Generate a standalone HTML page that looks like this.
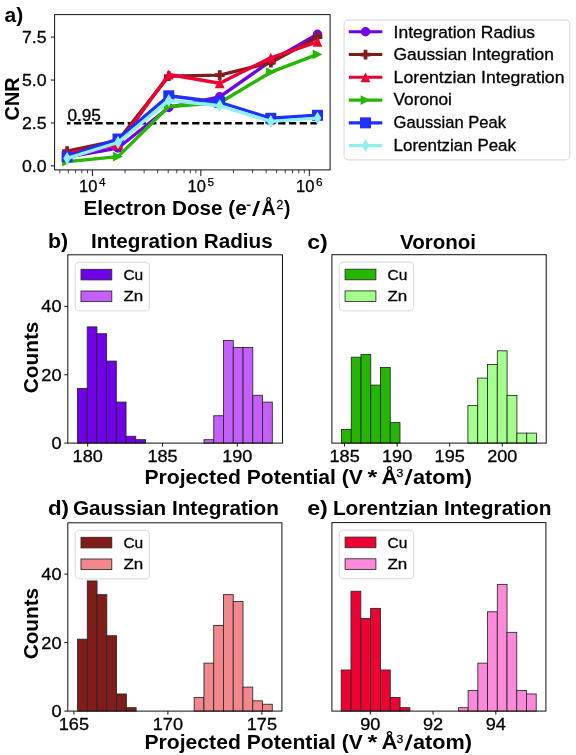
<!DOCTYPE html>
<html><head><meta charset="utf-8"><style>
html,body{margin:0;padding:0;background:#fff;}
svg{display:block;will-change:transform;font-family:"Liberation Sans", sans-serif;}
</style></head><body>
<svg width="576" height="755" viewBox="0 0 576 755">
<rect width="576" height="755" fill="#fff"/>
<clipPath id="clipa"><rect x="54.6" y="14.6" width="275.5" height="155.3"/></clipPath>
<line x1="66.9" y1="123.2" x2="316.8" y2="123.2" stroke="#000" stroke-width="2.5" stroke-dasharray="7.3 3.45" stroke-dashoffset="3.75"/>
<polyline points="67.10,157.20 118.00,148.00 168.80,107.50 219.70,96.80 270.80,61.00 317.50,34.30" fill="none" stroke="#7000ea" stroke-width="3.4" stroke-linejoin="round" stroke-linecap="butt"/>
<circle cx="67.10" cy="157.20" r="4.7" fill="#7000ea"/>
<circle cx="118.00" cy="148.00" r="4.7" fill="#7000ea"/>
<circle cx="168.80" cy="107.50" r="4.7" fill="#7000ea"/>
<circle cx="219.70" cy="96.80" r="4.7" fill="#7000ea"/>
<circle cx="270.80" cy="61.00" r="4.7" fill="#7000ea"/>
<circle cx="317.50" cy="34.30" r="4.7" fill="#7000ea"/>
<polyline points="67.10,151.10 118.00,140.50 168.80,76.10 219.70,75.10 270.80,62.60 317.50,37.20" fill="none" stroke="#821c1a" stroke-width="3.4" stroke-linejoin="round" stroke-linecap="butt"/>
<polygon points="65.20,146.20 69.00,146.20 69.00,149.20 72.00,149.20 72.00,153.00 69.00,153.00 69.00,156.00 65.20,156.00 65.20,153.00 62.20,153.00 62.20,149.20 65.20,149.20" fill="#821c1a"/>
<polygon points="116.10,135.60 119.90,135.60 119.90,138.60 122.90,138.60 122.90,142.40 119.90,142.40 119.90,145.40 116.10,145.40 116.10,142.40 113.10,142.40 113.10,138.60 116.10,138.60" fill="#821c1a"/>
<polygon points="166.90,71.20 170.70,71.20 170.70,74.20 173.70,74.20 173.70,78.00 170.70,78.00 170.70,81.00 166.90,81.00 166.90,78.00 163.90,78.00 163.90,74.20 166.90,74.20" fill="#821c1a"/>
<polygon points="217.80,70.20 221.60,70.20 221.60,73.20 224.60,73.20 224.60,77.00 221.60,77.00 221.60,80.00 217.80,80.00 217.80,77.00 214.80,77.00 214.80,73.20 217.80,73.20" fill="#821c1a"/>
<polygon points="268.90,57.70 272.70,57.70 272.70,60.70 275.70,60.70 275.70,64.50 272.70,64.50 272.70,67.50 268.90,67.50 268.90,64.50 265.90,64.50 265.90,60.70 268.90,60.70" fill="#821c1a"/>
<polygon points="315.60,32.30 319.40,32.30 319.40,35.30 322.40,35.30 322.40,39.10 319.40,39.10 319.40,42.10 315.60,42.10 315.60,39.10 312.60,39.10 312.60,35.30 315.60,35.30" fill="#821c1a"/>
<polyline points="67.10,153.00 118.00,144.90 168.80,74.50 219.70,83.25 270.80,57.75 317.50,41.90" fill="none" stroke="#ee0033" stroke-width="3.4" stroke-linejoin="round" stroke-linecap="butt"/>
<polygon points="67.10,148.10 62.20,157.90 72.00,157.90" fill="#ee0033"/>
<polygon points="118.00,140.00 113.10,149.80 122.90,149.80" fill="#ee0033"/>
<polygon points="168.80,69.60 163.90,79.40 173.70,79.40" fill="#ee0033"/>
<polygon points="219.70,78.35 214.80,88.15 224.60,88.15" fill="#ee0033"/>
<polygon points="270.80,52.85 265.90,62.65 275.70,62.65" fill="#ee0033"/>
<polygon points="317.50,37.00 312.60,46.80 322.40,46.80" fill="#ee0033"/>
<polyline points="67.10,161.60 118.00,156.60 168.80,106.50 219.70,102.70 270.80,72.20 317.50,54.40" fill="none" stroke="#26b600" stroke-width="3.4" stroke-linejoin="round" stroke-linecap="butt"/>
<polygon points="72.00,161.60 62.20,156.70 62.20,166.50" fill="#26b600"/>
<polygon points="122.90,156.60 113.10,151.70 113.10,161.50" fill="#26b600"/>
<polygon points="173.70,106.50 163.90,101.60 163.90,111.40" fill="#26b600"/>
<polygon points="224.60,102.70 214.80,97.80 214.80,107.60" fill="#26b600"/>
<polygon points="275.70,72.20 265.90,67.30 265.90,77.10" fill="#26b600"/>
<polygon points="322.40,54.40 312.60,49.50 312.60,59.30" fill="#26b600"/>
<polyline points="67.10,156.70 118.00,139.00 168.80,95.80 219.70,102.30 270.80,118.30 317.50,115.30" fill="none" stroke="#2030ff" stroke-width="3.4" stroke-linejoin="round" stroke-linecap="butt"/>
<rect x="61.60" y="151.20" width="11.0" height="11.0" fill="#2030ff"/>
<rect x="112.50" y="133.50" width="11.0" height="11.0" fill="#2030ff"/>
<rect x="163.30" y="90.30" width="11.0" height="11.0" fill="#2030ff"/>
<rect x="214.20" y="96.80" width="11.0" height="11.0" fill="#2030ff"/>
<rect x="265.30" y="112.80" width="11.0" height="11.0" fill="#2030ff"/>
<rect x="312.00" y="109.80" width="11.0" height="11.0" fill="#2030ff"/>
<polyline points="67.10,158.30 118.00,142.50 168.80,100.40 219.70,105.70 270.80,121.40 317.50,118.10" fill="none" stroke="#90f0f0" stroke-width="3.4" stroke-linejoin="round" stroke-linecap="butt"/>
<polygon points="67.10,151.90 71.00,158.30 67.10,164.70 63.20,158.30" fill="#90f0f0"/>
<polygon points="118.00,136.10 121.90,142.50 118.00,148.90 114.10,142.50" fill="#90f0f0"/>
<polygon points="168.80,94.00 172.70,100.40 168.80,106.80 164.90,100.40" fill="#90f0f0"/>
<polygon points="219.70,99.30 223.60,105.70 219.70,112.10 215.80,105.70" fill="#90f0f0"/>
<polygon points="270.80,115.00 274.70,121.40 270.80,127.80 266.90,121.40" fill="#90f0f0"/>
<polygon points="317.50,111.70 321.40,118.10 317.50,124.50 313.60,118.10" fill="#90f0f0"/>
<rect x="54.6" y="14.6" width="275.50" height="155.30" fill="none" stroke="#111" stroke-width="1.0"/>
<line x1="50.9" y1="165.90" x2="54.6" y2="165.90" stroke="#111" stroke-width="1"/>
<text x="46.60" y="172.00" font-size="17" font-weight="normal" text-anchor="end" textLength="24.6" lengthAdjust="spacingAndGlyphs" fill="#000" stroke="#000" stroke-width="0.3" >0.0</text>
<line x1="50.9" y1="122.97" x2="54.6" y2="122.97" stroke="#111" stroke-width="1"/>
<text x="46.60" y="129.07" font-size="17" font-weight="normal" text-anchor="end" textLength="24.6" lengthAdjust="spacingAndGlyphs" fill="#000" stroke="#000" stroke-width="0.3" >2.5</text>
<line x1="50.9" y1="80.05" x2="54.6" y2="80.05" stroke="#111" stroke-width="1"/>
<text x="46.60" y="86.15" font-size="17" font-weight="normal" text-anchor="end" textLength="24.6" lengthAdjust="spacingAndGlyphs" fill="#000" stroke="#000" stroke-width="0.3" >5.0</text>
<line x1="50.9" y1="37.12" x2="54.6" y2="37.12" stroke="#111" stroke-width="1"/>
<text x="46.60" y="43.23" font-size="17" font-weight="normal" text-anchor="end" textLength="24.6" lengthAdjust="spacingAndGlyphs" fill="#000" stroke="#000" stroke-width="0.3" >7.5</text>
<line x1="59.75" y1="169.9" x2="59.75" y2="173.3" stroke="#111" stroke-width="0.8"/>
<line x1="68.34" y1="169.9" x2="68.34" y2="173.3" stroke="#111" stroke-width="0.8"/>
<line x1="75.60" y1="169.9" x2="75.60" y2="173.3" stroke="#111" stroke-width="0.8"/>
<line x1="81.89" y1="169.9" x2="81.89" y2="173.3" stroke="#111" stroke-width="0.8"/>
<line x1="87.44" y1="169.9" x2="87.44" y2="173.3" stroke="#111" stroke-width="0.8"/>
<line x1="92.40" y1="169.9" x2="92.40" y2="176.1" stroke="#111" stroke-width="1"/>
<text x="79.10" y="191.7" font-size="16.5" stroke="#000" stroke-width="0.3">10</text>
<text x="99.10" y="186.1" font-size="11.8" stroke="#000" stroke-width="0.25">4</text>
<line x1="125.05" y1="169.9" x2="125.05" y2="173.3" stroke="#111" stroke-width="0.8"/>
<line x1="144.14" y1="169.9" x2="144.14" y2="173.3" stroke="#111" stroke-width="0.8"/>
<line x1="157.69" y1="169.9" x2="157.69" y2="173.3" stroke="#111" stroke-width="0.8"/>
<line x1="168.20" y1="169.9" x2="168.20" y2="173.3" stroke="#111" stroke-width="0.8"/>
<line x1="176.79" y1="169.9" x2="176.79" y2="173.3" stroke="#111" stroke-width="0.8"/>
<line x1="184.05" y1="169.9" x2="184.05" y2="173.3" stroke="#111" stroke-width="0.8"/>
<line x1="190.34" y1="169.9" x2="190.34" y2="173.3" stroke="#111" stroke-width="0.8"/>
<line x1="195.89" y1="169.9" x2="195.89" y2="173.3" stroke="#111" stroke-width="0.8"/>
<line x1="200.85" y1="169.9" x2="200.85" y2="176.1" stroke="#111" stroke-width="1"/>
<text x="187.55" y="191.7" font-size="16.5" stroke="#000" stroke-width="0.3">10</text>
<text x="207.55" y="186.1" font-size="11.8" stroke="#000" stroke-width="0.25">5</text>
<line x1="233.50" y1="169.9" x2="233.50" y2="173.3" stroke="#111" stroke-width="0.8"/>
<line x1="252.59" y1="169.9" x2="252.59" y2="173.3" stroke="#111" stroke-width="0.8"/>
<line x1="266.14" y1="169.9" x2="266.14" y2="173.3" stroke="#111" stroke-width="0.8"/>
<line x1="276.65" y1="169.9" x2="276.65" y2="173.3" stroke="#111" stroke-width="0.8"/>
<line x1="285.24" y1="169.9" x2="285.24" y2="173.3" stroke="#111" stroke-width="0.8"/>
<line x1="292.50" y1="169.9" x2="292.50" y2="173.3" stroke="#111" stroke-width="0.8"/>
<line x1="298.79" y1="169.9" x2="298.79" y2="173.3" stroke="#111" stroke-width="0.8"/>
<line x1="304.34" y1="169.9" x2="304.34" y2="173.3" stroke="#111" stroke-width="0.8"/>
<line x1="309.30" y1="169.9" x2="309.30" y2="176.1" stroke="#111" stroke-width="1"/>
<text x="296.00" y="191.7" font-size="16.5" stroke="#000" stroke-width="0.3">10</text>
<text x="316.00" y="186.1" font-size="11.8" stroke="#000" stroke-width="0.25">6</text>
<text x="67.40" y="120.70" font-size="17" font-weight="normal" text-anchor="start" textLength="33.5" lengthAdjust="spacingAndGlyphs" fill="#000" stroke="#000" stroke-width="0.3" >0.95</text>
<text x="4.60" y="22.20" font-size="21" font-weight="bold" text-anchor="start" fill="#000" >a)</text>
<text transform="translate(19.4,98.9) rotate(-90)" x="0" y="0" font-size="20.5" font-weight="bold" text-anchor="middle" textLength="43" lengthAdjust="spacingAndGlyphs">CNR</text>
<text x="83.50" y="215.40" font-size="20" font-weight="bold" text-anchor="start" textLength="163.2" lengthAdjust="spacingAndGlyphs" fill="#000" >Electron Dose (e</text>
<rect x="246.8" y="204.6" width="3.8" height="1.35" fill="#000"/>
<polygon points="252.1,215.9 254.9,215.9 260.1,200.9 257.3,200.9" fill="#000"/>
<text x="261.50" y="215.40" font-size="20" font-weight="bold" text-anchor="start" textLength="14.2" lengthAdjust="spacingAndGlyphs" fill="#000" >Å</text>
<text x="276.50" y="208.80" font-size="12" font-weight="normal" text-anchor="start" textLength="6.8" lengthAdjust="spacingAndGlyphs" fill="#000" stroke="#000" stroke-width="0.3" >2</text>
<text x="284.00" y="215.40" font-size="20" font-weight="bold" text-anchor="start" textLength="6.4" lengthAdjust="spacingAndGlyphs" fill="#000" >)</text>
<rect x="344.1" y="20.1" width="225.6" height="139.7" rx="4" fill="#fff" stroke="#dce0e0" stroke-width="1.2"/>
<line x1="348.8" y1="31.80" x2="382.3" y2="31.80" stroke="#7000ea" stroke-width="3.1"/>
<circle cx="365.50" cy="31.80" r="4.7" fill="#7000ea"/>
<text x="393.60" y="37.60" font-size="16.3" font-weight="normal" text-anchor="start" textLength="141.5" lengthAdjust="spacingAndGlyphs" fill="#000" stroke="#000" stroke-width="0.3" >Integration Radius</text>
<line x1="348.8" y1="54.56" x2="382.3" y2="54.56" stroke="#821c1a" stroke-width="3.1"/>
<polygon points="363.60,49.66 367.40,49.66 367.40,52.66 370.40,52.66 370.40,56.46 367.40,56.46 367.40,59.46 363.60,59.46 363.60,56.46 360.60,56.46 360.60,52.66 363.60,52.66" fill="#821c1a"/>
<text x="393.60" y="60.22" font-size="16.3" font-weight="normal" text-anchor="start" textLength="160.3" lengthAdjust="spacingAndGlyphs" fill="#000" stroke="#000" stroke-width="0.3" >Gaussian Integration</text>
<line x1="348.8" y1="77.32" x2="382.3" y2="77.32" stroke="#ee0033" stroke-width="3.1"/>
<polygon points="365.50,72.42 360.60,82.22 370.40,82.22" fill="#ee0033"/>
<text x="393.60" y="82.84" font-size="16.3" font-weight="normal" text-anchor="start" textLength="170.9" lengthAdjust="spacingAndGlyphs" fill="#000" stroke="#000" stroke-width="0.3" >Lorentzian Integration</text>
<line x1="348.8" y1="100.08" x2="382.3" y2="100.08" stroke="#26b600" stroke-width="3.1"/>
<polygon points="370.40,100.08 360.60,95.18 360.60,104.98" fill="#26b600"/>
<text x="393.60" y="105.46" font-size="16.3" font-weight="normal" text-anchor="start" textLength="58.3" lengthAdjust="spacingAndGlyphs" fill="#000" stroke="#000" stroke-width="0.3" >Voronoi</text>
<line x1="348.8" y1="122.84" x2="382.3" y2="122.84" stroke="#2030ff" stroke-width="3.1"/>
<rect x="360.00" y="117.34" width="11.0" height="11.0" fill="#2030ff"/>
<text x="393.60" y="128.08" font-size="16.3" font-weight="normal" text-anchor="start" textLength="112.4" lengthAdjust="spacingAndGlyphs" fill="#000" stroke="#000" stroke-width="0.3" >Gaussian Peak</text>
<line x1="348.8" y1="145.60" x2="382.3" y2="145.60" stroke="#90f0f0" stroke-width="3.1"/>
<polygon points="365.50,139.20 369.40,145.60 365.50,152.00 361.60,145.60" fill="#90f0f0"/>
<text x="393.60" y="150.70" font-size="16.3" font-weight="normal" text-anchor="start" textLength="122.4" lengthAdjust="spacingAndGlyphs" fill="#000" stroke="#000" stroke-width="0.3" >Lorentzian Peak</text>
<rect x="77.50" y="388.41" width="9.71" height="54.69" fill="#7000ea" stroke="#262626" stroke-width="0.85"/>
<rect x="87.21" y="326.89" width="9.71" height="116.21" fill="#7000ea" stroke="#262626" stroke-width="0.85"/>
<rect x="96.92" y="333.72" width="9.71" height="109.38" fill="#7000ea" stroke="#262626" stroke-width="0.85"/>
<rect x="106.63" y="361.07" width="9.71" height="82.03" fill="#7000ea" stroke="#262626" stroke-width="0.85"/>
<rect x="116.34" y="402.08" width="9.71" height="41.02" fill="#7000ea" stroke="#262626" stroke-width="0.85"/>
<rect x="126.05" y="436.26" width="9.71" height="6.84" fill="#7000ea" stroke="#262626" stroke-width="0.85"/>
<rect x="135.76" y="439.68" width="9.71" height="3.42" fill="#7000ea" stroke="#262626" stroke-width="0.85"/>
<rect x="204.00" y="439.68" width="9.76" height="3.42" fill="#c45efd" stroke="#262626" stroke-width="0.85"/>
<rect x="213.76" y="415.76" width="9.76" height="27.34" fill="#c45efd" stroke="#262626" stroke-width="0.85"/>
<rect x="223.52" y="340.56" width="9.76" height="102.54" fill="#c45efd" stroke="#262626" stroke-width="0.85"/>
<rect x="233.28" y="347.40" width="9.76" height="95.70" fill="#c45efd" stroke="#262626" stroke-width="0.85"/>
<rect x="243.04" y="347.40" width="9.76" height="95.70" fill="#c45efd" stroke="#262626" stroke-width="0.85"/>
<rect x="252.80" y="395.25" width="9.76" height="47.85" fill="#c45efd" stroke="#262626" stroke-width="0.85"/>
<rect x="262.56" y="402.08" width="9.76" height="41.02" fill="#c45efd" stroke="#262626" stroke-width="0.85"/>
<rect x="67.8" y="254.8" width="214.70" height="188.30" fill="none" stroke="#111" stroke-width="1.0"/>
<line x1="87.70" y1="443.1" x2="87.70" y2="446.60" stroke="#111" stroke-width="1"/>
<text x="87.70" y="462.30" font-size="16.5" font-weight="normal" text-anchor="middle" textLength="30.2" lengthAdjust="spacingAndGlyphs" fill="#000" stroke="#000" stroke-width="0.3" >180</text>
<line x1="162.50" y1="443.1" x2="162.50" y2="446.60" stroke="#111" stroke-width="1"/>
<text x="162.50" y="462.30" font-size="16.5" font-weight="normal" text-anchor="middle" textLength="30.2" lengthAdjust="spacingAndGlyphs" fill="#000" stroke="#000" stroke-width="0.3" >185</text>
<line x1="237.30" y1="443.1" x2="237.30" y2="446.60" stroke="#111" stroke-width="1"/>
<text x="237.30" y="462.30" font-size="16.5" font-weight="normal" text-anchor="middle" textLength="30.2" lengthAdjust="spacingAndGlyphs" fill="#000" stroke="#000" stroke-width="0.3" >190</text>
<line x1="64.30" y1="443.10" x2="67.8" y2="443.10" stroke="#111" stroke-width="1"/>
<text x="61.50" y="449.10" font-size="16.5" font-weight="normal" text-anchor="end" textLength="10.1" lengthAdjust="spacingAndGlyphs" fill="#000" stroke="#000" stroke-width="0.3" >0</text>
<line x1="64.30" y1="374.74" x2="67.8" y2="374.74" stroke="#111" stroke-width="1"/>
<text x="61.50" y="380.74" font-size="16.5" font-weight="normal" text-anchor="end" textLength="20.2" lengthAdjust="spacingAndGlyphs" fill="#000" stroke="#000" stroke-width="0.3" >20</text>
<line x1="64.30" y1="306.38" x2="67.8" y2="306.38" stroke="#111" stroke-width="1"/>
<text x="61.50" y="312.38" font-size="16.5" font-weight="normal" text-anchor="end" textLength="20.2" lengthAdjust="spacingAndGlyphs" fill="#000" stroke="#000" stroke-width="0.3" >40</text>
<text transform="translate(37.60,357.40) rotate(-90)" font-size="20" font-weight="bold" text-anchor="middle" textLength="71.5" lengthAdjust="spacingAndGlyphs">Counts</text>
<rect x="75.30" y="262.30" width="74.1" height="48.6" rx="4" fill="#fff" stroke="#dce0e0" stroke-width="1.2"/>
<rect x="81.00" y="269.30" width="30.8" height="10.6" fill="#7000ea" stroke="#262626" stroke-width="0.85"/>
<text x="123.40" y="279.70" font-size="14.6" font-weight="normal" text-anchor="start" textLength="19.8" lengthAdjust="spacingAndGlyphs" fill="#000" stroke="#000" stroke-width="0.3" >Cu</text>
<rect x="81.00" y="291.00" width="30.8" height="10.6" fill="#c45efd" stroke="#262626" stroke-width="0.85"/>
<text x="123.40" y="301.40" font-size="14.6" font-weight="normal" text-anchor="start" textLength="19.8" lengthAdjust="spacingAndGlyphs" fill="#000" stroke="#000" stroke-width="0.3" >Zn</text>
<text x="91.10" y="248.40" font-size="20" font-weight="bold" text-anchor="start" textLength="181.6" lengthAdjust="spacingAndGlyphs" fill="#000" >Integration Radius</text>
<text x="48.00" y="248.40" font-size="20" font-weight="bold" text-anchor="start" textLength="20.2" lengthAdjust="spacingAndGlyphs" fill="#000" >b)</text>
<rect x="341.50" y="429.50" width="9.75" height="13.60" fill="#26b600" stroke="#262626" stroke-width="0.85"/>
<rect x="351.25" y="357.20" width="9.75" height="85.90" fill="#26b600" stroke="#262626" stroke-width="0.85"/>
<rect x="361.00" y="354.40" width="9.75" height="88.70" fill="#26b600" stroke="#262626" stroke-width="0.85"/>
<rect x="370.75" y="385.10" width="9.75" height="58.00" fill="#26b600" stroke="#262626" stroke-width="0.85"/>
<rect x="380.50" y="367.50" width="9.75" height="75.60" fill="#26b600" stroke="#262626" stroke-width="0.85"/>
<rect x="390.25" y="422.60" width="9.75" height="20.50" fill="#26b600" stroke="#262626" stroke-width="0.85"/>
<rect x="467.90" y="405.60" width="9.80" height="37.50" fill="#a4ff8c" stroke="#262626" stroke-width="0.85"/>
<rect x="477.70" y="378.10" width="9.80" height="65.00" fill="#a4ff8c" stroke="#262626" stroke-width="0.85"/>
<rect x="487.50" y="364.50" width="9.80" height="78.60" fill="#a4ff8c" stroke="#262626" stroke-width="0.85"/>
<rect x="497.30" y="350.80" width="9.80" height="92.30" fill="#a4ff8c" stroke="#262626" stroke-width="0.85"/>
<rect x="507.10" y="395.40" width="9.80" height="47.70" fill="#a4ff8c" stroke="#262626" stroke-width="0.85"/>
<rect x="516.90" y="433.10" width="9.80" height="10.00" fill="#a4ff8c" stroke="#262626" stroke-width="0.85"/>
<rect x="526.70" y="433.10" width="9.80" height="10.00" fill="#a4ff8c" stroke="#262626" stroke-width="0.85"/>
<rect x="331.9" y="254.7" width="214.30" height="188.40" fill="none" stroke="#111" stroke-width="1.0"/>
<line x1="344.60" y1="443.1" x2="344.60" y2="446.60" stroke="#111" stroke-width="1"/>
<text x="344.60" y="462.30" font-size="16.5" font-weight="normal" text-anchor="middle" textLength="30.2" lengthAdjust="spacingAndGlyphs" fill="#000" stroke="#000" stroke-width="0.3" >185</text>
<line x1="397.15" y1="443.1" x2="397.15" y2="446.60" stroke="#111" stroke-width="1"/>
<text x="397.15" y="462.30" font-size="16.5" font-weight="normal" text-anchor="middle" textLength="30.2" lengthAdjust="spacingAndGlyphs" fill="#000" stroke="#000" stroke-width="0.3" >190</text>
<line x1="449.70" y1="443.1" x2="449.70" y2="446.60" stroke="#111" stroke-width="1"/>
<text x="449.70" y="462.30" font-size="16.5" font-weight="normal" text-anchor="middle" textLength="30.2" lengthAdjust="spacingAndGlyphs" fill="#000" stroke="#000" stroke-width="0.3" >195</text>
<line x1="502.25" y1="443.1" x2="502.25" y2="446.60" stroke="#111" stroke-width="1"/>
<text x="502.25" y="462.30" font-size="16.5" font-weight="normal" text-anchor="middle" textLength="30.2" lengthAdjust="spacingAndGlyphs" fill="#000" stroke="#000" stroke-width="0.3" >200</text>
<rect x="339.40" y="262.20" width="74.1" height="48.6" rx="4" fill="#fff" stroke="#dce0e0" stroke-width="1.2"/>
<rect x="345.10" y="269.20" width="30.8" height="10.6" fill="#26b600" stroke="#262626" stroke-width="0.85"/>
<text x="387.50" y="279.60" font-size="14.6" font-weight="normal" text-anchor="start" textLength="19.8" lengthAdjust="spacingAndGlyphs" fill="#000" stroke="#000" stroke-width="0.3" >Cu</text>
<rect x="345.10" y="290.90" width="30.8" height="10.6" fill="#a4ff8c" stroke="#262626" stroke-width="0.85"/>
<text x="387.50" y="301.30" font-size="14.6" font-weight="normal" text-anchor="start" textLength="19.8" lengthAdjust="spacingAndGlyphs" fill="#000" stroke="#000" stroke-width="0.3" >Zn</text>
<text x="400.00" y="248.60" font-size="20" font-weight="bold" text-anchor="start" textLength="76.0" lengthAdjust="spacingAndGlyphs" fill="#000" >Voronoi</text>
<text x="307.20" y="248.60" font-size="20" font-weight="bold" text-anchor="start" textLength="20.6" lengthAdjust="spacingAndGlyphs" fill="#000" >c)</text>
<rect x="77.50" y="639.18" width="9.77" height="71.92" fill="#821c1a" stroke="#262626" stroke-width="0.85"/>
<rect x="87.27" y="580.95" width="9.77" height="130.15" fill="#821c1a" stroke="#262626" stroke-width="0.85"/>
<rect x="97.04" y="594.65" width="9.77" height="116.45" fill="#821c1a" stroke="#262626" stroke-width="0.85"/>
<rect x="106.81" y="635.75" width="9.77" height="75.35" fill="#821c1a" stroke="#262626" stroke-width="0.85"/>
<rect x="116.58" y="693.98" width="9.77" height="17.12" fill="#821c1a" stroke="#262626" stroke-width="0.85"/>
<rect x="126.35" y="707.68" width="9.77" height="3.42" fill="#821c1a" stroke="#262626" stroke-width="0.85"/>
<rect x="194.20" y="697.40" width="9.76" height="13.70" fill="#f2888e" stroke="#262626" stroke-width="0.85"/>
<rect x="203.96" y="663.15" width="9.76" height="47.95" fill="#f2888e" stroke="#262626" stroke-width="0.85"/>
<rect x="213.72" y="625.48" width="9.76" height="85.62" fill="#f2888e" stroke="#262626" stroke-width="0.85"/>
<rect x="223.48" y="594.65" width="9.76" height="116.45" fill="#f2888e" stroke="#262626" stroke-width="0.85"/>
<rect x="233.24" y="601.50" width="9.76" height="109.60" fill="#f2888e" stroke="#262626" stroke-width="0.85"/>
<rect x="243.00" y="687.12" width="9.76" height="23.98" fill="#f2888e" stroke="#262626" stroke-width="0.85"/>
<rect x="252.76" y="700.83" width="9.76" height="10.27" fill="#f2888e" stroke="#262626" stroke-width="0.85"/>
<rect x="262.52" y="704.25" width="9.76" height="6.85" fill="#f2888e" stroke="#262626" stroke-width="0.85"/>
<rect x="67.8" y="522.8" width="214.10" height="188.30" fill="none" stroke="#111" stroke-width="1.0"/>
<line x1="73.90" y1="711.1" x2="73.90" y2="714.60" stroke="#111" stroke-width="1"/>
<text x="73.90" y="730.30" font-size="16.5" font-weight="normal" text-anchor="middle" textLength="30.2" lengthAdjust="spacingAndGlyphs" fill="#000" stroke="#000" stroke-width="0.3" >165</text>
<line x1="167.90" y1="711.1" x2="167.90" y2="714.60" stroke="#111" stroke-width="1"/>
<text x="167.90" y="730.30" font-size="16.5" font-weight="normal" text-anchor="middle" textLength="30.2" lengthAdjust="spacingAndGlyphs" fill="#000" stroke="#000" stroke-width="0.3" >170</text>
<line x1="261.90" y1="711.1" x2="261.90" y2="714.60" stroke="#111" stroke-width="1"/>
<text x="261.90" y="730.30" font-size="16.5" font-weight="normal" text-anchor="middle" textLength="30.2" lengthAdjust="spacingAndGlyphs" fill="#000" stroke="#000" stroke-width="0.3" >175</text>
<line x1="64.30" y1="711.10" x2="67.8" y2="711.10" stroke="#111" stroke-width="1"/>
<text x="61.50" y="717.10" font-size="16.5" font-weight="normal" text-anchor="end" textLength="10.1" lengthAdjust="spacingAndGlyphs" fill="#000" stroke="#000" stroke-width="0.3" >0</text>
<line x1="64.30" y1="642.60" x2="67.8" y2="642.60" stroke="#111" stroke-width="1"/>
<text x="61.50" y="648.60" font-size="16.5" font-weight="normal" text-anchor="end" textLength="20.2" lengthAdjust="spacingAndGlyphs" fill="#000" stroke="#000" stroke-width="0.3" >20</text>
<line x1="64.30" y1="574.10" x2="67.8" y2="574.10" stroke="#111" stroke-width="1"/>
<text x="61.50" y="580.10" font-size="16.5" font-weight="normal" text-anchor="end" textLength="20.2" lengthAdjust="spacingAndGlyphs" fill="#000" stroke="#000" stroke-width="0.3" >40</text>
<text transform="translate(37.60,623.60) rotate(-90)" font-size="20" font-weight="bold" text-anchor="middle" textLength="71.5" lengthAdjust="spacingAndGlyphs">Counts</text>
<rect x="75.30" y="530.30" width="74.1" height="48.6" rx="4" fill="#fff" stroke="#dce0e0" stroke-width="1.2"/>
<rect x="81.00" y="537.30" width="30.8" height="10.6" fill="#821c1a" stroke="#262626" stroke-width="0.85"/>
<text x="123.40" y="547.70" font-size="14.6" font-weight="normal" text-anchor="start" textLength="19.8" lengthAdjust="spacingAndGlyphs" fill="#000" stroke="#000" stroke-width="0.3" >Cu</text>
<rect x="81.00" y="559.00" width="30.8" height="10.6" fill="#f2888e" stroke="#262626" stroke-width="0.85"/>
<text x="123.40" y="569.40" font-size="14.6" font-weight="normal" text-anchor="start" textLength="19.8" lengthAdjust="spacingAndGlyphs" fill="#000" stroke="#000" stroke-width="0.3" >Zn</text>
<text x="73.00" y="514.80" font-size="20" font-weight="bold" text-anchor="start" textLength="205.9" lengthAdjust="spacingAndGlyphs" fill="#000" >Gaussian Integration</text>
<text x="48.00" y="514.80" font-size="20" font-weight="bold" text-anchor="start" textLength="21.0" lengthAdjust="spacingAndGlyphs" fill="#000" >d)</text>
<rect x="341.20" y="670.00" width="9.81" height="41.10" fill="#ee0033" stroke="#262626" stroke-width="0.85"/>
<rect x="351.01" y="591.23" width="9.81" height="119.88" fill="#ee0033" stroke="#262626" stroke-width="0.85"/>
<rect x="360.82" y="618.62" width="9.81" height="92.48" fill="#ee0033" stroke="#262626" stroke-width="0.85"/>
<rect x="370.63" y="608.35" width="9.81" height="102.75" fill="#ee0033" stroke="#262626" stroke-width="0.85"/>
<rect x="380.44" y="670.00" width="9.81" height="41.10" fill="#ee0033" stroke="#262626" stroke-width="0.85"/>
<rect x="390.25" y="697.40" width="9.81" height="13.70" fill="#ee0033" stroke="#262626" stroke-width="0.85"/>
<rect x="400.06" y="707.68" width="9.81" height="3.42" fill="#ee0033" stroke="#262626" stroke-width="0.85"/>
<rect x="458.40" y="707.68" width="9.72" height="3.42" fill="#ff8adc" stroke="#262626" stroke-width="0.85"/>
<rect x="468.12" y="690.55" width="9.72" height="20.55" fill="#ff8adc" stroke="#262626" stroke-width="0.85"/>
<rect x="477.85" y="663.15" width="9.72" height="47.95" fill="#ff8adc" stroke="#262626" stroke-width="0.85"/>
<rect x="487.57" y="611.78" width="9.72" height="99.32" fill="#ff8adc" stroke="#262626" stroke-width="0.85"/>
<rect x="497.30" y="584.38" width="9.72" height="126.73" fill="#ff8adc" stroke="#262626" stroke-width="0.85"/>
<rect x="507.02" y="632.33" width="9.72" height="78.77" fill="#ff8adc" stroke="#262626" stroke-width="0.85"/>
<rect x="516.75" y="690.55" width="9.72" height="20.55" fill="#ff8adc" stroke="#262626" stroke-width="0.85"/>
<rect x="526.48" y="693.98" width="9.72" height="17.12" fill="#ff8adc" stroke="#262626" stroke-width="0.85"/>
<rect x="331.9" y="522.6" width="214.00" height="188.50" fill="none" stroke="#111" stroke-width="1.0"/>
<line x1="370.30" y1="711.1" x2="370.30" y2="714.60" stroke="#111" stroke-width="1"/>
<text x="370.30" y="730.30" font-size="16.5" font-weight="normal" text-anchor="middle" textLength="20.2" lengthAdjust="spacingAndGlyphs" fill="#000" stroke="#000" stroke-width="0.3" >90</text>
<line x1="433.06" y1="711.1" x2="433.06" y2="714.60" stroke="#111" stroke-width="1"/>
<text x="433.06" y="730.30" font-size="16.5" font-weight="normal" text-anchor="middle" textLength="20.2" lengthAdjust="spacingAndGlyphs" fill="#000" stroke="#000" stroke-width="0.3" >92</text>
<line x1="495.82" y1="711.1" x2="495.82" y2="714.60" stroke="#111" stroke-width="1"/>
<text x="495.82" y="730.30" font-size="16.5" font-weight="normal" text-anchor="middle" textLength="20.2" lengthAdjust="spacingAndGlyphs" fill="#000" stroke="#000" stroke-width="0.3" >94</text>
<rect x="339.40" y="530.10" width="74.1" height="48.6" rx="4" fill="#fff" stroke="#dce0e0" stroke-width="1.2"/>
<rect x="345.10" y="537.10" width="30.8" height="10.6" fill="#ee0033" stroke="#262626" stroke-width="0.85"/>
<text x="387.50" y="547.50" font-size="14.6" font-weight="normal" text-anchor="start" textLength="19.8" lengthAdjust="spacingAndGlyphs" fill="#000" stroke="#000" stroke-width="0.3" >Cu</text>
<rect x="345.10" y="558.80" width="30.8" height="10.6" fill="#ff8adc" stroke="#262626" stroke-width="0.85"/>
<text x="387.50" y="569.20" font-size="14.6" font-weight="normal" text-anchor="start" textLength="19.8" lengthAdjust="spacingAndGlyphs" fill="#000" stroke="#000" stroke-width="0.3" >Zn</text>
<text x="332.90" y="515.40" font-size="20" font-weight="bold" text-anchor="start" textLength="218.5" lengthAdjust="spacingAndGlyphs" fill="#000" >Lorentzian Integration</text>
<text x="307.20" y="515.40" font-size="20" font-weight="bold" text-anchor="start" textLength="20.7" lengthAdjust="spacingAndGlyphs" fill="#000" >e)</text>
<text x="144.50" y="483.50" font-size="19.8" font-weight="bold" text-anchor="start" textLength="218.4" lengthAdjust="spacingAndGlyphs" fill="#000" >Projected Potential (V</text>
<text x="367.50" y="483.50" font-size="19.8" font-weight="bold" text-anchor="start" textLength="9.8" lengthAdjust="spacingAndGlyphs" fill="#000" >*</text>
<text x="381.50" y="483.50" font-size="19.8" font-weight="bold" text-anchor="start" textLength="16.0" lengthAdjust="spacingAndGlyphs" fill="#000" >Å</text>
<text x="396.50" y="476.90" font-size="11.7" font-weight="normal" text-anchor="start" textLength="6.8" lengthAdjust="spacingAndGlyphs" fill="#000" stroke="#000" stroke-width="0.3" >3</text>
<polygon points="404.4,484.90 407.1,484.90 412.7,468.90 410.0,468.90" fill="#000"/>
<text x="413.00" y="483.50" font-size="19.8" font-weight="bold" text-anchor="start" textLength="59.0" lengthAdjust="spacingAndGlyphs" fill="#000" >atom)</text>
<text x="144.50" y="749.20" font-size="19.8" font-weight="bold" text-anchor="start" textLength="218.4" lengthAdjust="spacingAndGlyphs" fill="#000" >Projected Potential (V</text>
<text x="367.50" y="749.20" font-size="19.8" font-weight="bold" text-anchor="start" textLength="9.8" lengthAdjust="spacingAndGlyphs" fill="#000" >*</text>
<text x="381.50" y="749.20" font-size="19.8" font-weight="bold" text-anchor="start" textLength="16.0" lengthAdjust="spacingAndGlyphs" fill="#000" >Å</text>
<text x="396.50" y="742.60" font-size="11.7" font-weight="normal" text-anchor="start" textLength="6.8" lengthAdjust="spacingAndGlyphs" fill="#000" stroke="#000" stroke-width="0.3" >3</text>
<polygon points="404.4,750.60 407.1,750.60 412.7,734.60 410.0,734.60" fill="#000"/>
<text x="413.00" y="749.20" font-size="19.8" font-weight="bold" text-anchor="start" textLength="59.0" lengthAdjust="spacingAndGlyphs" fill="#000" >atom)</text>
</svg></body></html>
